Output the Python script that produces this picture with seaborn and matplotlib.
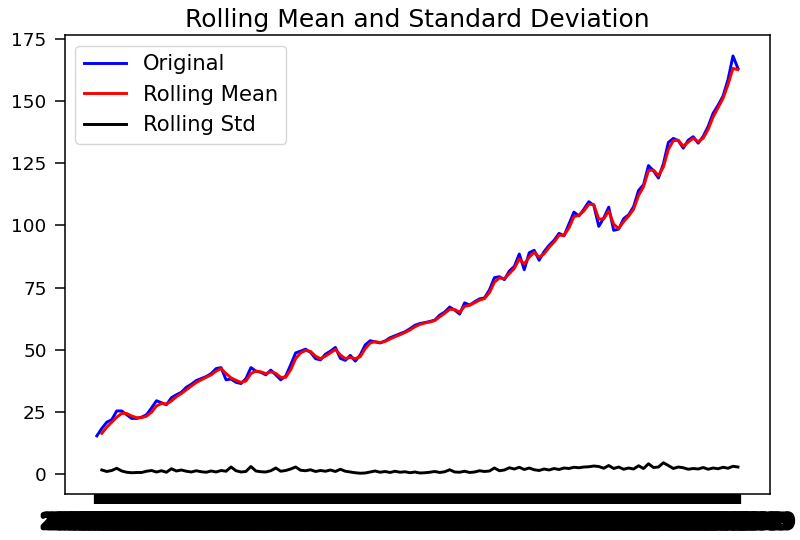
import numpy as np
import pandas as pd
import matplotlib
matplotlib.use("Agg")
import matplotlib.pyplot as plt
import matplotlib.patheffects as pe
import seaborn as sns

# ---- data ----
original = [
    15.5, 18.5, 21.0, 22.0, 25.5, 25.5, 24.0, 22.5, 22.5, 23.0,
    24.0, 26.7, 29.6, 28.8, 28.0, 30.8, 32.0, 33.0, 35.0, 36.2,
    37.7, 38.5, 39.3, 40.5, 42.5, 42.9, 38.0, 38.3, 37.0, 36.5,
    38.5, 42.9, 41.5, 41.0, 40.0, 41.9, 40.0, 38.0, 39.5, 44.0,
    48.8, 49.5, 50.3, 49.0, 46.5, 46.0, 48.3, 49.5, 51.0, 46.6,
    45.8, 47.8, 45.5, 48.0, 52.0, 53.7, 53.2, 52.8, 53.6, 54.9,
    55.7, 56.5, 57.3, 58.5, 59.9, 60.6, 61.0, 61.4, 62.0, 64.0,
    65.2, 67.2, 66.0, 64.4, 68.9, 68.0, 69.3, 70.5, 70.9, 74.1,
    79.0, 79.4, 78.2, 81.7, 83.5, 88.5, 82.2, 89.0, 90.0, 86.0,
    89.5, 92.0, 94.0, 96.8, 95.8, 100.5, 105.3, 103.8, 106.5, 109.5,
    108.0, 99.6, 103.0, 107.3, 98.0, 98.5, 102.7, 104.2, 107.5, 114.0,
    116.3, 124.0, 121.9, 119.0, 124.7, 133.3, 134.9, 134.0, 131.0, 134.2,
    135.6, 133.0, 135.7, 139.7, 145.0, 148.2, 151.9, 158.5, 168.0, 163.0,
]

rolling_mean = [
    np.nan, 16.5, 19.0, 21.0, 23.0, 24.5, 24.5, 23.5, 22.8, 22.8,
    23.4, 25.0, 27.5, 28.5, 28.3, 29.5, 31.2, 32.5, 34.0, 35.5,
    36.9, 38.0, 39.0, 40.0, 41.5, 42.5, 40.5, 38.8, 37.8, 37.0,
    37.5, 40.5, 41.5, 41.2, 40.5, 41.2, 40.6, 39.0, 39.0, 42.0,
    46.5, 48.8, 49.8, 49.4, 47.5, 46.5, 47.5, 48.8, 50.2, 48.0,
    46.5, 47.0, 46.5, 47.3, 50.5, 52.8, 53.3, 53.0, 53.4, 54.4,
    55.3, 56.1, 57.0, 58.0, 59.3, 60.2, 60.8, 61.2, 61.8, 63.3,
    64.7, 66.3, 66.2, 65.2, 67.5, 67.9, 68.9, 70.0, 70.6, 73.0,
    77.2, 78.9, 78.6, 80.6, 82.7, 86.5, 84.5, 87.2, 89.2, 87.2,
    88.6, 91.2, 93.3, 96.0, 96.0, 99.0, 103.5, 104.0, 105.8, 108.5,
    108.3, 102.5, 102.6, 105.8, 100.5, 98.7, 101.5, 103.7, 106.5, 112.0,
    115.5, 122.0, 122.2, 120.0, 123.4, 130.5, 134.0, 134.2, 131.8, 133.4,
    135.0, 133.6, 135.0, 138.5, 143.5, 147.2, 151.0, 156.5, 163.0, 162.5,
]

rolling_std = [
    np.nan, 1.8, 1.2, 1.6, 2.5, 1.4, 0.9, 0.7, 0.8, 0.8,
    1.3, 1.6, 1.0, 1.5, 0.9, 2.3, 1.4, 1.8, 1.3, 1.0,
    1.5, 1.1, 0.9, 1.4, 1.0, 1.6, 1.3, 3.0, 1.5, 1.0,
    1.2, 3.2, 1.4, 1.1, 1.0, 1.5, 2.6, 1.3, 1.6, 2.2,
    3.0, 1.7, 1.5, 1.9, 1.2, 1.6, 1.3, 1.8, 1.2, 2.1,
    1.3, 1.0, 0.7, 0.5, 0.6, 1.0, 1.4, 0.9, 1.2, 0.8,
    1.3, 0.9, 1.1, 0.7, 1.0, 0.6, 0.7, 0.9, 1.2, 0.8,
    1.1, 1.9, 1.0, 0.9, 1.3, 0.8, 1.0, 1.5, 1.2, 1.4,
    2.6, 1.5, 1.8, 2.7, 2.2, 2.9, 2.0, 2.6, 1.9, 1.6,
    2.2, 1.8, 2.4, 2.0, 2.6, 2.4, 2.9, 2.7, 3.0, 3.1,
    3.4, 3.2, 2.5, 3.6, 2.4, 3.0, 2.1, 2.6, 2.2, 3.5,
    2.4, 4.3, 2.8, 3.0, 4.7, 3.6, 2.4, 3.0, 2.7, 2.1,
    2.4, 2.2, 2.8, 2.1, 2.6, 2.3, 2.9, 2.5, 3.3, 3.0,
]

dates = [d.strftime("%Y-%m-%d") for d in
         pd.bdate_range(start="2013-02-08", periods=len(original), freq="10B")]

series_labels = ["Original", "Rolling Mean", "Rolling Std"]
series_colors = ["blue", "red", "black"]

# ---- figure ----
plt.rcParams["font.family"] = ["DejaVu Sans"]
fig = plt.figure(figsize=(8.0, 5.4), dpi=100)
ax = fig.add_axes([0.081, 0.085, 0.8815, 0.85])

df = pd.DataFrame({"date": dates, "Original": original,
                   "Rolling Mean": rolling_mean, "Rolling Std": rolling_std})

for name, col in zip(series_labels, series_colors):
    sub = df[["date", name]].dropna()
    sns.lineplot(x=sub["date"].tolist(), y=sub[name].values, color=col,
                 label=name, linewidth=2.1, ax=ax, errorbar=None, sort=False)

ax.set_title("Rolling Mean and Standard Deviation", fontsize=18, pad=6)
ax.set_yticks([0, 25, 50, 75, 100, 125, 150, 175])
ax.tick_params(axis="y", labelsize=13.3, length=7, width=1.1, pad=6)
ax.tick_params(axis="x", labelsize=13.8, length=7, width=4.5, pad=6.5)
for lab in ax.get_xticklabels():
    lab.set_path_effects([pe.withStroke(linewidth=3.5, foreground="black")])
ax.set_xlabel("")
ax.set_ylabel("")
for s in ax.spines.values():
    s.set_linewidth(1.1)
    s.set_color("black")
leg = ax.legend(loc="upper left", fontsize=15.2, handlelength=2.0)

fig.savefig("out.png", dpi=100)
